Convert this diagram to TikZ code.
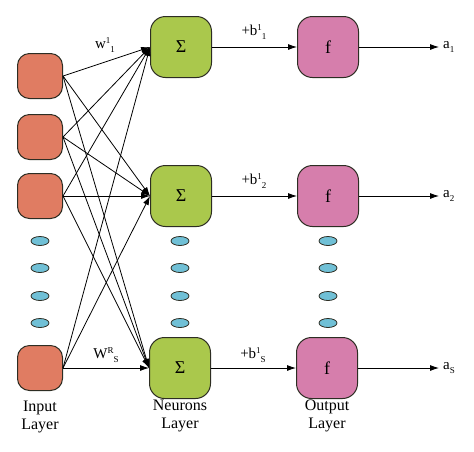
\documentclass[tikz,border=0pt]{standalone}
\usepackage{fontspec}
\setmainfont{Liberation Serif}
\usetikzlibrary{arrows.meta,shapes.geometric}
\definecolor{inc}{RGB}{224,124,98}
\definecolor{neuc}{RGB}{170,200,76}
\definecolor{outc}{RGB}{214,126,172}
\definecolor{dotc}{RGB}{112,192,214}
\definecolor{edgec}{RGB}{45,45,35}
\newcommand{\supsub}[2]{\raisebox{5pt}{\fontsize{9}{9}\selectfont #1}\raisebox{-3.5pt}{\fontsize{9}{9}\selectfont #2}}
\tikzset{
  x=1pt, y=-1pt,
  inbox/.style={draw=edgec, line width=1pt, fill=inc, rounded corners=12pt, minimum width=45pt, minimum height=45pt, inner sep=0pt},
  neubox/.style={draw=edgec, line width=1pt, fill=neuc, rounded corners=15pt, minimum width=61pt, minimum height=61pt, inner sep=0pt, font=\fontsize{18}{20}\selectfont},
  outbox/.style={draw=edgec, line width=1pt, fill=outc, rounded corners=15pt, minimum width=61pt, minimum height=61pt, inner sep=0pt, font=\fontsize{18}{20}\selectfont},
  dotell/.style={draw=edgec, line width=0.8pt, fill=dotc, ellipse, minimum width=18pt, minimum height=9pt, inner sep=0pt},
  conn/.style={-{Latex[length=9pt,width=6pt]}, line width=0.8pt, black},
  lbl/.style={font=\fontsize{15}{17}\selectfont, inner sep=0pt},
  layerlbl/.style={font=\fontsize{16}{18}\selectfont, align=center, inner sep=0pt}
}
\begin{document}
\begin{tikzpicture}
\useasboundingbox (0,0) rectangle (474,451);
% input layer
\node[inbox] (in1) at (40,76) {};
\node[inbox] (in2) at (40,137) {};
\node[inbox] (in3) at (40,196) {};
\node[inbox] (in4) at (40,368) {};
% neurons
\node[neubox] (n1) at (181,47) {Σ};
\node[neubox] (n2) at (181,196) {Σ};
\node[neubox] (n3) at (180,368) {Σ};
% output
\node[outbox] (f1) at (328,47) {f};
\node[outbox] (f2) at (328,196) {f};
\node[outbox] (f3) at (327,368) {f};
% dots
\foreach \c/\xx in {i/40,n/180,o/328}{
  \foreach \k/\yy in {1/241,2/268,3/296,4/323}{
    \node[dotell] (d\c\k) at (\xx,\yy) {};
  }
}
% connections
\foreach \i in {1,2,3,4}{
  \foreach \j in {1,2,3}{
    \draw[conn] (in\i.east) -- (n\j.west);
  }
}
\foreach \j in {1,2,3}{
  \draw[conn] (n\j.east) -- (f\j.west);
}
\coordinate (e1) at (439,47);
\coordinate (e2) at (439,196);
\coordinate (e3) at (439,368);
\draw[conn] (f1.east) -- (e1);
\draw[conn] (f2.east) -- (e2);
\draw[conn] (f3.east) -- (e3);
% labels
\node[lbl] (lw1) at (105,45) {w\supsub{1}{1}};
\node[lbl] (lws) at (106,355) {W\supsub{R}{S}};
\node[lbl] (lb1) at (254,32) {+b\supsub{1}{1}};
\node[lbl] (lb2) at (254,181) {+b\supsub{1}{2}};
\node[lbl] (lb3) at (253,355) {+b\supsub{1}{S}};
\node[lbl, anchor=west] (la1) at (443,47) {a\raisebox{-3.5pt}{\fontsize{9}{9}\selectfont 1}};
\node[lbl, anchor=west] (la2) at (443,196) {a\raisebox{-3.5pt}{\fontsize{9}{9}\selectfont 2}};
\node[lbl, anchor=west] (la3) at (443,368) {a\raisebox{-3.5pt}{\fontsize{9}{9}\selectfont S}};
\node[layerlbl] (L1) at (40,417) {Input\\Layer};
\node[layerlbl] (L2) at (180,416) {Neurons\\Layer};
\node[layerlbl] (L3) at (327,416) {Output\\Layer};
\end{tikzpicture}
\end{document}
